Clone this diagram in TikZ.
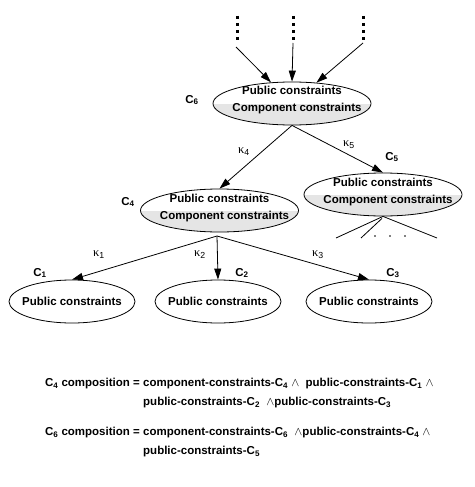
\documentclass[tikz,border=0pt]{standalone}
\usepackage{fontspec}
\setmainfont{Liberation Sans}
\newfontfamily\greekfont{Liberation Serif}
\usetikzlibrary{arrows.meta}
\usetikzlibrary{shapes}
\newcommand{\Cn}[1]{C\textsubscript{#1}}
\newcommand{\Kn}[1]{{\greekfont κ}\textsubscript{#1}}
\tikzset{
    comp/.style={ellipse, draw=black, line width=0.8pt, fill=white, minimum width=158pt, minimum height=43pt, inner sep=0pt},
    leaf/.style={ellipse, draw=black, line width=0.8pt, fill=white, minimum width=126pt, minimum height=43pt, inner sep=0pt},
    halfgray/.style={path picture={\fill[black!10] (path picture bounding box.west) rectangle (path picture bounding box.south east);}},
    txt/.style={font=\bfseries\fontsize{11.5}{17}\selectfont, align=center, inner sep=0pt},
    lbl/.style={font=\bfseries\fontsize{11.5}{14}\selectfont, inner sep=0pt},
    kap/.style={font=\fontsize{12.5}{14}\selectfont, inner sep=0pt},
    link/.style={line width=0.8pt, -{Triangle[length=11pt,width=7pt]}},
    dotcol/.style={line width=3pt, dash pattern=on 3pt off 4pt},
}
\begin{document}
\begin{tikzpicture}[x=1pt, y=-1pt]
    \useasboundingbox (0,0) rectangle (474,487);
    % ellipses
    \node (c6) [comp, halfgray] at (292,103.5) {};
    \node (c5) [comp, halfgray] at (383,194.5) {};
    \node (c4) [comp, halfgray] at (219.5,210.5) {};
    \node (c1) [leaf] at (72,301.5) {};
    \node (c2) [leaf] at (218,301.5) {};
    \node (c3) [leaf] at (369,301.5) {};
    \node (t6) [txt] at ([yshift=3pt]c6) {Public constraints\\\hspace*{10pt}Component constraints};
    \node (t5) [txt] at ([yshift=2pt]c5) {Public constraints\\\hspace*{10pt}Component constraints};
    \node (t4) [txt] at ([yshift=2pt]c4) {Public constraints\\\hspace*{10pt}Component constraints};
    \node (t1) [txt] at (c1) {Public constraints};
    \node (t2) [txt] at (c2) {Public constraints};
    \node (t3) [txt] at (c3) {Public constraints};
    % names
    \node (n6) [lbl] at (192,100) {\Cn{6}};
    \node (n5) [lbl] at (392,157) {\Cn{5}};
    \node (n4) [lbl] at (128,202) {\Cn{4}};
    \node (n1) [lbl] at (40,273) {\Cn{1}};
    \node (n2) [lbl] at (242,273) {\Cn{2}};
    \node (n3) [lbl] at (393,273) {\Cn{3}};
    % incoming
    \foreach \x in {237,293,363} \draw[dotcol] (\x,16) -- (\x,40);
    \coordinate (in1) at (236,47);
    \coordinate (in2) at (293,43);
    \coordinate (in3) at (363,43);
    \draw[link] (in1) -- (c6);
    \draw[link] (in2) -- (c6.north);
    \draw[link] (in3) -- (c6);
    % tree
    \draw[link] (c6.south) -- (c4.north);
    \draw[link] (c6.south) -- (c5.north);
    \coordinate (fork4) at (217,236);
    \draw[link] (fork4) -- (c1.north);
    \draw[link] (fork4) -- (c2.north);
    \draw[link] (fork4) -- (c3.north);
    \node (k4) [kap] at (244,152) {\Kn{4}};
    \node (k5) [kap] at (349,145) {\Kn{5}};
    \node (k1) [kap] at (99,255) {\Kn{1}};
    \node (k2) [kap] at (200,255) {\Kn{2}};
    \node (k3) [kap] at (318,255) {\Kn{3}};
    % below c5
    \coordinate (s1) at (336,238);
    \coordinate (s2) at (361,238);
    \coordinate (s3) at (437,238);
    \draw[line width=0.8pt] (s1) -- (c5.south) -- (s3);
    \draw[line width=0.8pt] ([xshift=-1pt,yshift=-2pt]c5.south) -- (s2);
    \foreach \x in {375,390,405} \fill (\x,236) circle (0.8pt);
    % compositions
    \node (l4) [lbl, anchor=east] at (140,384) {\Cn{4} composition =};
    \node (r4a) [lbl, anchor=west] at (143,384) {component-constraints-\Cn{4} $\wedge$ \ public-constraints-\Cn{1} $\wedge$};
    \node (r4b) [lbl, anchor=west] at (143,403) {public-constraints-\Cn{2} \ $\wedge$public-constraints-\Cn{3}};
    \node (l6) [lbl, anchor=east] at (140,433) {\Cn{6} composition =};
    \node (r6a) [lbl, anchor=west] at (143,433) {component-constraints-\Cn{6} \ $\wedge$public-constraints-\Cn{4} $\wedge$};
    \node (r6b) [lbl, anchor=west] at (143,452) {public-constraints-\Cn{5}};
\end{tikzpicture}
\end{document}
